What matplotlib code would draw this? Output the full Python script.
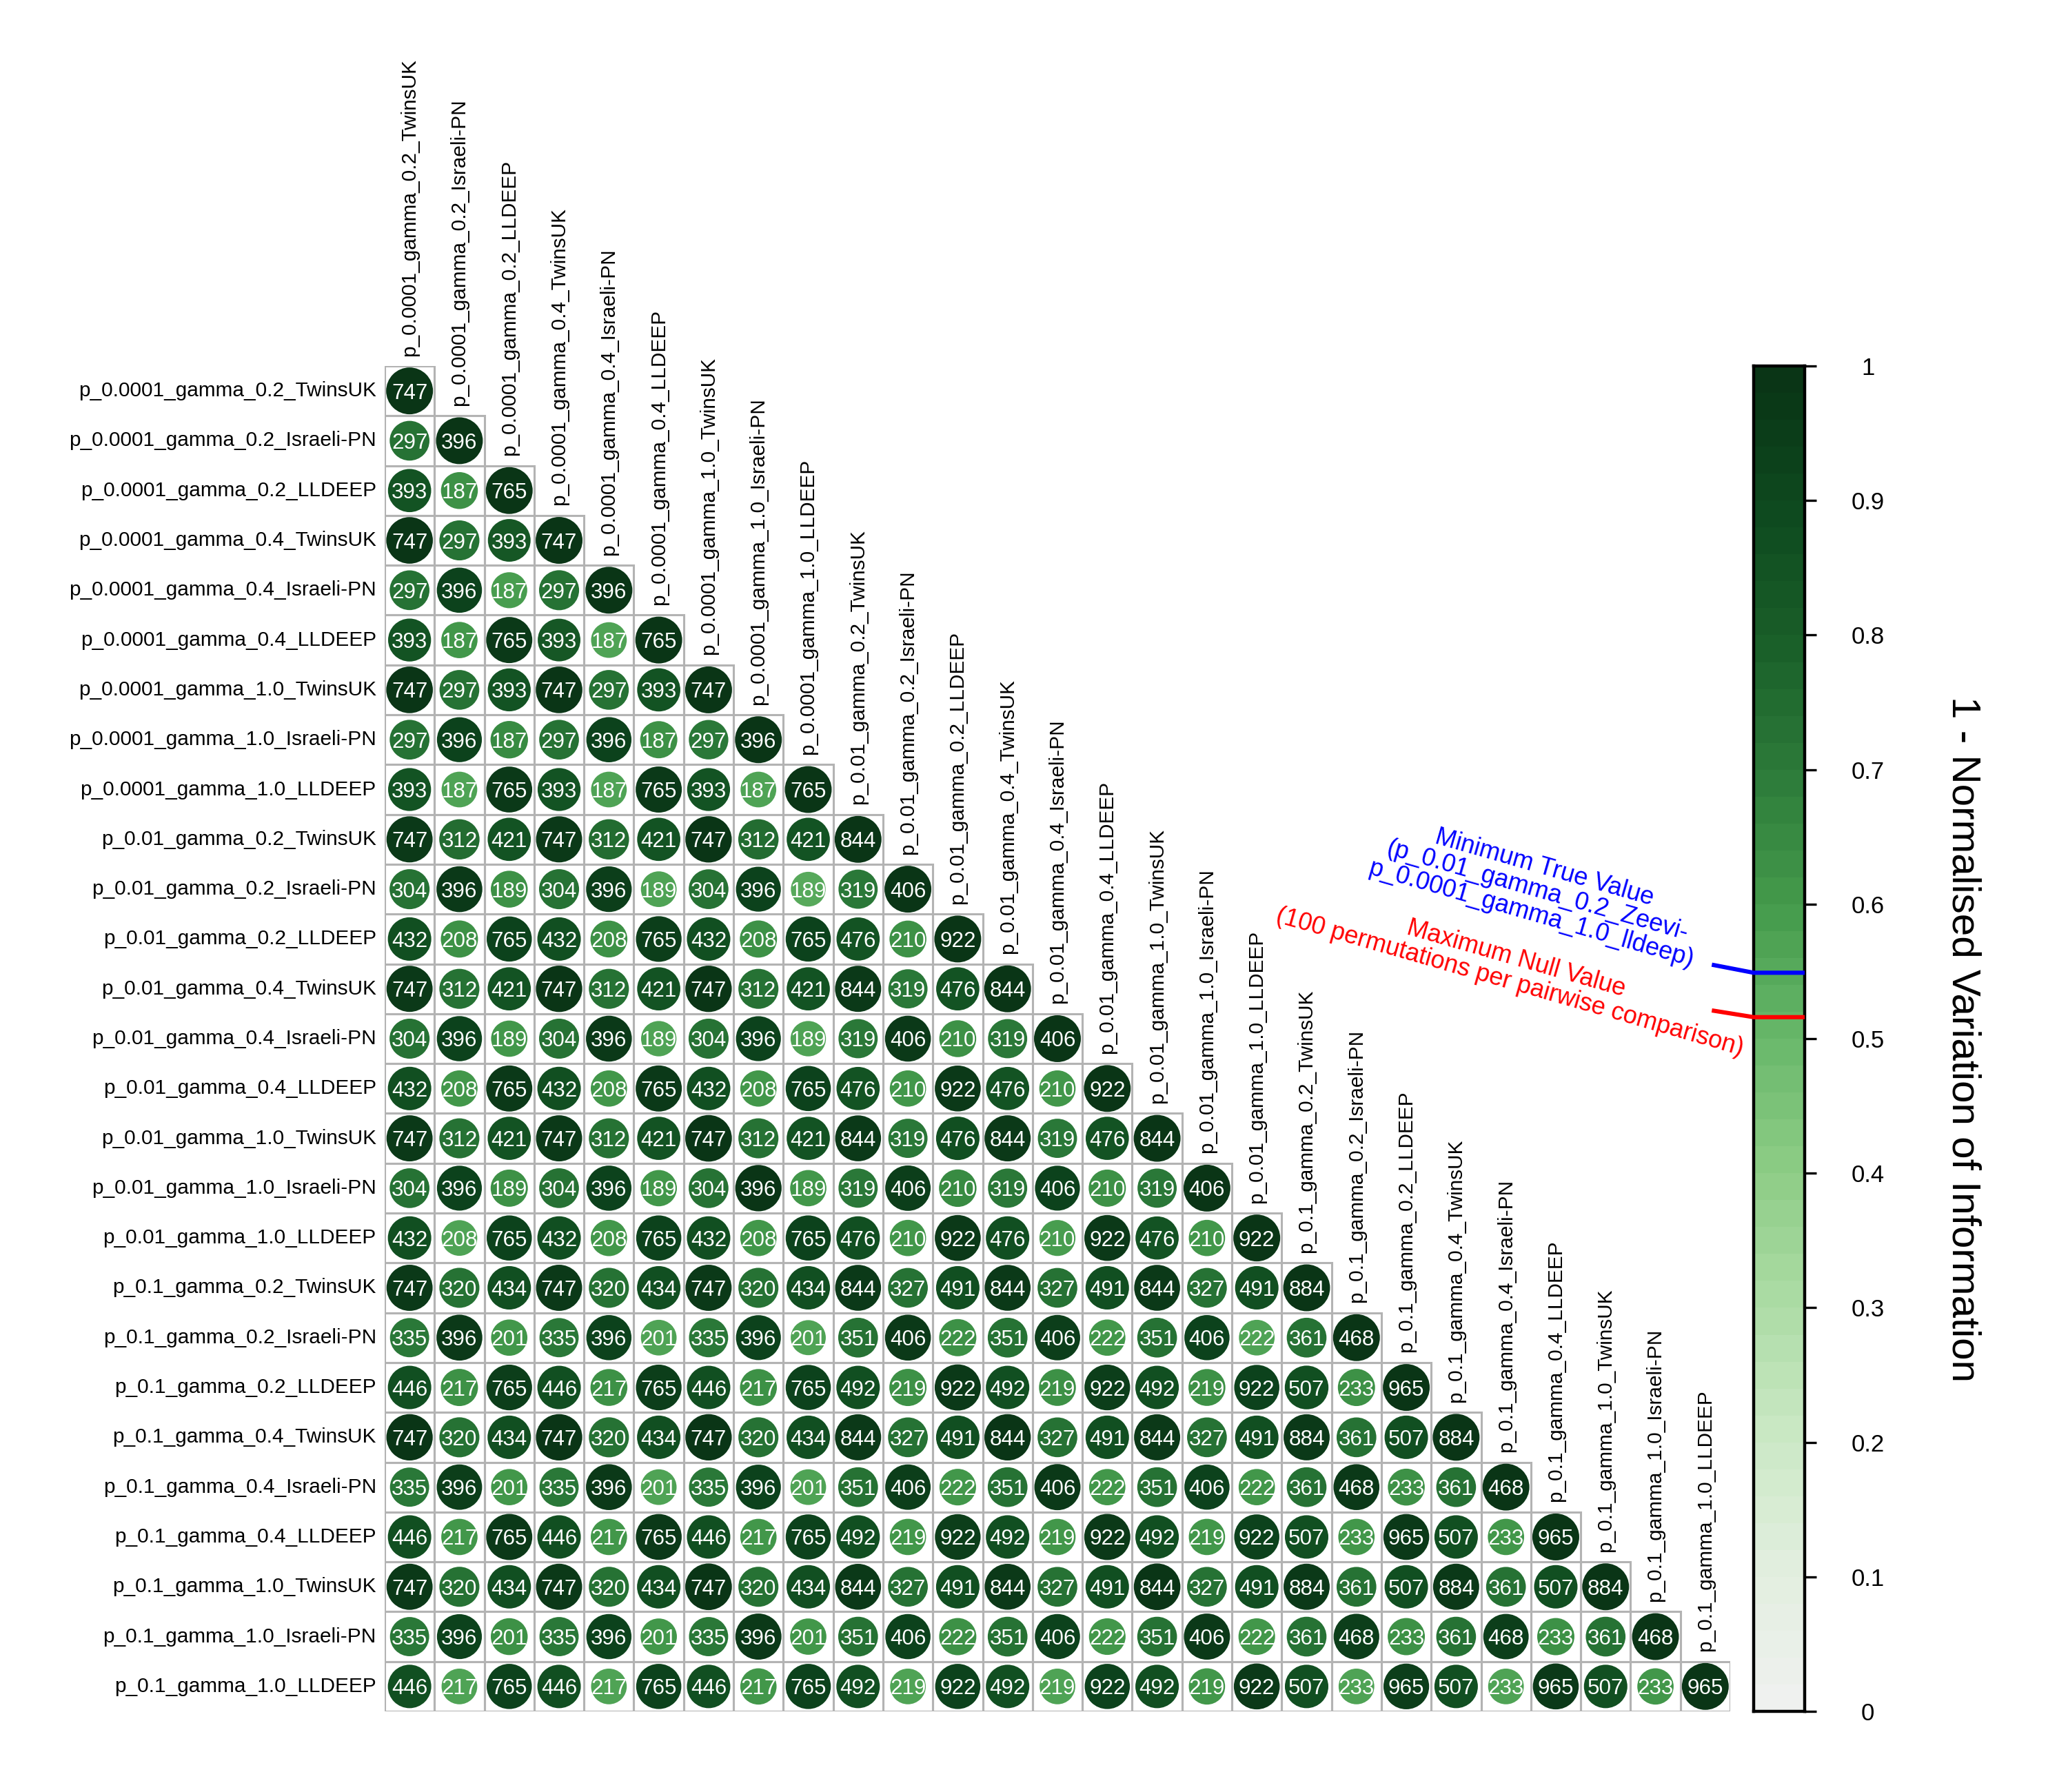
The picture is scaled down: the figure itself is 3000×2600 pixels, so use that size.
import matplotlib

matplotlib.use("Agg")
import matplotlib.pyplot as plt
import numpy as np
from matplotlib.colors import LinearSegmentedColormap, Normalize
from matplotlib.patches import Circle, Rectangle

plt.rcParams["font.family"] = ["Liberation Sans", "DejaVu Sans"]

labels = [
    "p_0.0001_gamma_0.2_TwinsUK", "p_0.0001_gamma_0.2_Israeli-PN", "p_0.0001_gamma_0.2_LLDEEP",
    "p_0.0001_gamma_0.4_TwinsUK", "p_0.0001_gamma_0.4_Israeli-PN", "p_0.0001_gamma_0.4_LLDEEP",
    "p_0.0001_gamma_1.0_TwinsUK", "p_0.0001_gamma_1.0_Israeli-PN", "p_0.0001_gamma_1.0_LLDEEP",
    "p_0.01_gamma_0.2_TwinsUK", "p_0.01_gamma_0.2_Israeli-PN", "p_0.01_gamma_0.2_LLDEEP",
    "p_0.01_gamma_0.4_TwinsUK", "p_0.01_gamma_0.4_Israeli-PN", "p_0.01_gamma_0.4_LLDEEP",
    "p_0.01_gamma_1.0_TwinsUK", "p_0.01_gamma_1.0_Israeli-PN", "p_0.01_gamma_1.0_LLDEEP",
    "p_0.1_gamma_0.2_TwinsUK", "p_0.1_gamma_0.2_Israeli-PN", "p_0.1_gamma_0.2_LLDEEP",
    "p_0.1_gamma_0.4_TwinsUK", "p_0.1_gamma_0.4_Israeli-PN", "p_0.1_gamma_0.4_LLDEEP",
    "p_0.1_gamma_1.0_TwinsUK", "p_0.1_gamma_1.0_Israeli-PN", "p_0.1_gamma_1.0_LLDEEP",
]

# numbers printed inside the circles, lower triangle row by row
cell_text = [
    [747],
    [297, 396],
    [393, 187, 765],
    [747, 297, 393, 747],
    [297, 396, 187, 297, 396],
    [393, 187, 765, 393, 187, 765],
    [747, 297, 393, 747, 297, 393, 747],
    [297, 396, 187, 297, 396, 187, 297, 396],
    [393, 187, 765, 393, 187, 765, 393, 187, 765],
    [747, 312, 421, 747, 312, 421, 747, 312, 421, 844],
    [304, 396, 189, 304, 396, 189, 304, 396, 189, 319, 406],
    [432, 208, 765, 432, 208, 765, 432, 208, 765, 476, 210, 922],
    [747, 312, 421, 747, 312, 421, 747, 312, 421, 844, 319, 476, 844],
    [304, 396, 189, 304, 396, 189, 304, 396, 189, 319, 406, 210, 319, 406],
    [432, 208, 765, 432, 208, 765, 432, 208, 765, 476, 210, 922, 476, 210, 922],
    [747, 312, 421, 747, 312, 421, 747, 312, 421, 844, 319, 476, 844, 319, 476, 844],
    [304, 396, 189, 304, 396, 189, 304, 396, 189, 319, 406, 210, 319, 406, 210, 319, 406],
    [432, 208, 765, 432, 208, 765, 432, 208, 765, 476, 210, 922, 476, 210, 922, 476, 210, 922],
    [747, 320, 434, 747, 320, 434, 747, 320, 434, 844, 327, 491, 844, 327, 491, 844, 327, 491, 884],
    [335, 396, 201, 335, 396, 201, 335, 396, 201, 351, 406, 222, 351, 406, 222, 351, 406, 222, 361, 468],
    [446, 217, 765, 446, 217, 765, 446, 217, 765, 492, 219, 922, 492, 219, 922, 492, 219, 922, 507, 233, 965],
    [747, 320, 434, 747, 320, 434, 747, 320, 434, 844, 327, 491, 844, 327, 491, 844, 327, 491, 884, 361, 507, 884],
    [335, 396, 201, 335, 396, 201, 335, 396, 201, 351, 406, 222, 351, 406, 222, 351, 406, 222, 361, 468, 233, 361, 468],
    [446, 217, 765, 446, 217, 765, 446, 217, 765, 492, 219, 922, 492, 219, 922, 492, 219, 922, 507, 233, 965, 507, 233, 965],
    [747, 320, 434, 747, 320, 434, 747, 320, 434, 844, 327, 491, 844, 327, 491, 844, 327, 491, 884, 361, 507, 884, 361, 507, 884],
    [335, 396, 201, 335, 396, 201, 335, 396, 201, 351, 406, 222, 351, 406, 222, 351, 406, 222, 361, 468, 233, 361, 468, 233, 361, 468],
    [446, 217, 765, 446, 217, 765, 446, 217, 765, 492, 219, 922, 492, 219, 922, 492, 219, 922, 507, 233, 965, 507, 233, 965, 507, 233, 965],
]

# 1 - normalised variation of information (circle colour + size)
nvi = [
    [1.00],
    [.72, 1.00],
    [.85, .62, 1.00],
    [.99, .73, .83, 1.00],
    [.72, .93, .59, .73, 1.00],
    [.84, .60, .97, .83, .58, 1.00],
    [.99, .72, .84, .99, .72, .85, 1.00],
    [.72, .92, .64, .72, .93, .63, .71, 1.00],
    [.84, .58, .96, .84, .58, .97, .84, .58, 1.00],
    [.97, .74, .85, .97, .74, .85, .98, .74, .85, 1.00],
    [.73, .96, .62, .73, .95, .58, .72, .92, .55, .70, 1.00],
    [.86, .63, .93, .86, .62, .95, .86, .63, .93, .85, .62, 1.00],
    [.97, .73, .85, .98, .73, .85, .98, .73, .85, .97, .70, .85, 1.00],
    [.73, .93, .60, .73, .96, .57, .73, .92, .57, .70, .96, .62, .70, 1.00],
    [.86, .60, .97, .86, .60, .97, .86, .60, .93, .85, .60, .96, .85, .60, 1.00],
    [.97, .73, .85, .97, .73, .85, .99, .73, .85, .96, .70, .86, .97, .70, .85, 1.00],
    [.72, .92, .63, .72, .93, .60, .72, .98, .60, .70, .94, .64, .70, .92, .63, .70, 1.00],
    [.86, .58, .93, .86, .60, .93, .86, .60, .93, .86, .60, .96, .86, .59, .96, .85, .60, 1.00],
    [.97, .73, .86, .97, .73, .86, .97, .73, .86, .96, .72, .86, .96, .72, .86, .96, .72, .86, 1.00],
    [.70, .96, .60, .70, .93, .58, .70, .92, .56, .72, .96, .63, .72, .94, .60, .72, .93, .58, .72, 1.00],
    [.86, .63, .95, .86, .62, .95, .86, .62, .93, .86, .63, .97, .86, .62, .95, .86, .62, .93, .87, .63, 1.00],
    [.98, .73, .86, .98, .73, .86, .98, .73, .86, .97, .72, .86, .98, .72, .86, .97, .72, .86, .97, .72, .86, 1.00],
    [.70, .94, .60, .70, .96, .58, .70, .92, .58, .72, .94, .61, .72, .97, .60, .72, .93, .60, .72, .96, .62, .72, 1.00],
    [.86, .60, .97, .86, .60, .96, .86, .60, .93, .86, .60, .95, .86, .60, .97, .86, .60, .93, .86, .60, .96, .86, .60, 1.00],
    [.97, .73, .86, .97, .73, .86, .99, .73, .86, .96, .72, .86, .96, .72, .86, .99, .72, .86, .97, .72, .86, .97, .72, .86, 1.00],
    [.70, .92, .62, .70, .93, .60, .70, .97, .60, .72, .93, .63, .72, .93, .61, .72, .97, .61, .72, .95, .63, .72, .94, .63, .72, 1.00],
    [.86, .58, .93, .86, .58, .93, .86, .60, .93, .86, .58, .93, .86, .58, .93, .86, .60, .96, .86, .58, .95, .86, .58, .96, .86, .60, 1.00],
]

min_true = 0.549   # blue marker on the colour bar
max_null = 0.516   # red marker on the colour bar

cbar_ticks = [0, 0.1, 0.2, 0.3, 0.4, 0.5, 0.6, 0.7, 0.8, 0.9, 1]
cbar_ticklabels = ["0", "0.1", "0.2", "0.3", "0.4", "0.5", "0.6", "0.7", "0.8", "0.9", "1"]

# greens ramp sampled from the legend, cut into 50 steps like the original
green_stops = ["#eff1ef", "#e2efdf", "#cbe9c5", "#acdca5", "#8ecd86", "#69b86b",
               "#459b4c", "#2d7c3a", "#1a5f29", "#0e4a1f", "#0a3516"]
cmap = LinearSegmentedColormap.from_list("greens", green_stops, N=50)
norm = Normalize(0, 1)

W, H = 3000, 2600
fig = plt.figure(figsize=(W / 200, H / 200), dpi=200)

# --- matrix ---
left, top, size = 558, 531, 1952
ax = fig.add_axes([left / W, 1 - (top + size) / H, size / W, size / H])
n = len(labels)
ax.set_xlim(-0.5, n - 0.5)
ax.set_ylim(n - 0.5, -0.5)
ax.axis("off")

for i, (vals, txts) in enumerate(zip(nvi, cell_text)):
    for j, (v, t) in enumerate(zip(vals, txts)):
        ax.add_patch(Rectangle((j - 0.5, i - 0.5), 1, 1, fill=False,
                               edgecolor="#b3b3b3", lw=1.1, zorder=1))
        ax.add_patch(Circle((j, i), 0.47 * np.sqrt(v), facecolor=cmap(norm(v)),
                            edgecolor="none", zorder=2))
        ax.text(j, i, str(t), color="white", ha="center", va="center_baseline",
                fontsize=11.3, zorder=3)

for k, lab in enumerate(labels):
    ax.text(-0.5 - 0.17, k, lab, ha="right", va="center", fontsize=10.7)
    ax.text(k, k - 0.5 - 0.2, lab, ha="center", va="bottom", rotation=90, fontsize=10.7)

# --- colour bar ---
cb_left, cb_w = 2544, 74
cax = fig.add_axes([cb_left / W, 1 - (top + size) / H, cb_w / W, size / H])
cax.imshow(np.linspace(0, 1, 50)[:, None], cmap=cmap, norm=norm, origin="lower",
           extent=[0, 1, 0, 1], aspect="auto", interpolation="nearest")
cax.set_xlim(0, 1)
cax.set_ylim(0, 1)
cax.set_xticks([])
cax.yaxis.tick_right()
cax.set_yticks(cbar_ticks)
cax.set_yticklabels(cbar_ticklabels)
cax.tick_params(axis="y", length=6, width=1.2, pad=27, labelsize=12.5)
for lab in cax.get_yticklabels():
    lab.set_horizontalalignment("center")
for sp in cax.spines.values():
    sp.set_linewidth(1.6)

cax.plot([-0.82, 0, 1], [min_true + 0.006, min_true, min_true], color="blue",
         lw=2.2, clip_on=False, solid_capstyle="butt", zorder=5)
cax.plot([-0.82, 0, 1], [max_null + 0.005, max_null, max_null], color="red",
         lw=2.2, clip_on=False, solid_capstyle="butt", zorder=5)

cax.text(4.1, 0.5, "1 - Normalised Variation of Information", rotation=-90,
         ha="center", va="center", fontsize=21, transform=cax.transAxes)

fig.text(2231 / W, 1 - 1293 / H,
         "Minimum True Value\n(p_0.01_gamma_0.2_Zeevi-\np_0.0001_gamma_1.0_lldeep)",
         color="blue", fontsize=13, rotation=-16, rotation_mode="anchor",
         ha="center", va="center", linespacing=1.0, multialignment="center")
fig.text(2195 / W, 1 - 1408 / H,
         "Maximum Null Value\n(100 permutations per pairwise comparison)",
         color="red", fontsize=13, rotation=-16, rotation_mode="anchor",
         ha="center", va="center", linespacing=1.0, multialignment="center")

fig.savefig("out.png", dpi=200, facecolor="white")
